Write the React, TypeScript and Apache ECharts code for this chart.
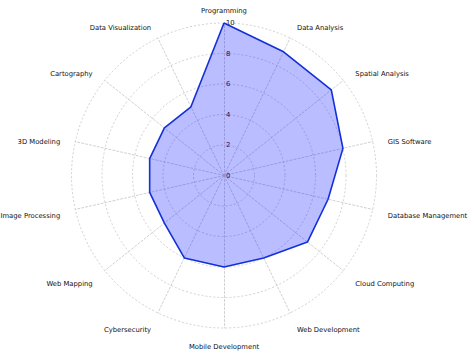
import React, { useEffect, useRef } from "react";
import * as echarts from "echarts";

const categories = [
  "Programming",
  "Data Analysis",
  "Spatial Analysis",
  "GIS Software",
  "Database Management",
  "Cloud Computing",
  "Web Development",
  "Mobile Development",
  "Cybersecurity",
  "Web Mapping",
  "Image Processing",
  "3D Modeling",
  "Cartography",
  "Data Visualization",
];
const skillValues = [10, 9, 9, 8, 7, 7, 6, 6, 6, 5, 5, 5, 5, 5];
const radialMin = 0;
const radialMax = 10;
const radialSplits = 5;

// ECharts radar runs counter-clockwise; reorder so the chart reads clockwise.
const order = [0, ...categories.map((_, i) => categories.length - 1 - i).slice(0, categories.length - 1)];

export default function App() {
  const ref = useRef<HTMLDivElement>(null);
  useEffect(() => {
    document.body.style.margin = "0";
    const chart = echarts.init(ref.current!, null, { renderer: "svg" });
    const font = "DejaVu Sans";
    chart.setOption({
      animation: false,
      backgroundColor: "#ffffff",
      radar: {
        center: [224, 175.5],
        radius: 152.5,
        startAngle: 90,
        shape: "circle",
        splitNumber: radialSplits,
        nameGap: 15.5,
        axisName: {
          color: "#111",
          fontFamily: font,
          fontSize: 6.8,
          verticalAlign: "top",
        },
        indicator: order.map((idx, i) => ({
          name: categories[idx],
          min: radialMin,
          max: radialMax,
          ...(i === 0
            ? {
                axisLabel: {
                  show: true,
                  color: "#222",
                  fontFamily: font,
                  fontSize: 6.8,
                  align: "left",
                  margin: -2,
                  showMinLabel: true,
                  showMaxLabel: true,
                },
              }
            : {}),
        })),
        axisLabel: { show: false },
        axisTick: { show: false },
        axisLine: {
          lineStyle: { color: "#c4c4c4", type: [2, 2], width: 0.8 },
        },
        splitLine: {
          lineStyle: { color: "#c4c4c4", type: [2, 2], width: 0.8 },
        },
        splitArea: { show: false },
      },
      series: [
        {
          type: "radar",
          symbol: "none",
          data: [
            {
              value: order.map((idx) => skillValues[idx]),
              lineStyle: { color: "#1637d2", width: 1.6 },
              areaStyle: { color: "rgba(0,10,255,0.27)", opacity: 1 },
            },
          ],
        },
      ],
    });
    return () => chart.dispose();
  }, []);
  return <div ref={ref} style={{ width: 474, height: 353 }} />;
}
